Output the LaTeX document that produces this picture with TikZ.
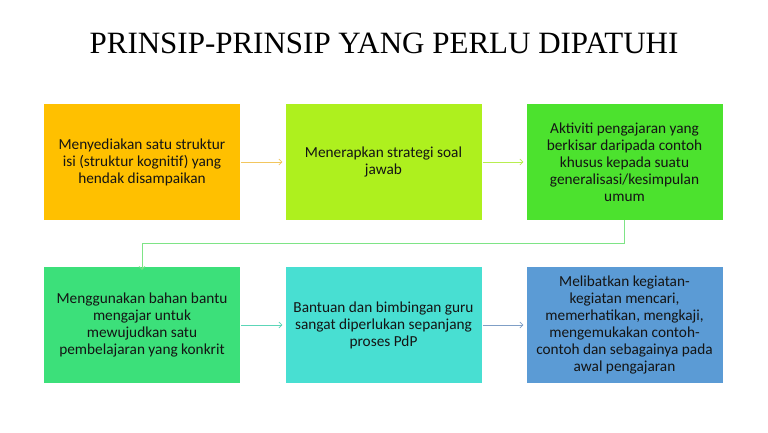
\documentclass[tikz,border=0pt]{standalone}
\usepackage{fontspec}
\setmainfont{Carlito}
\newfontfamily\titlefont{Liberation Serif}
\usetikzlibrary{arrows.meta}
\definecolor{cA}{HTML}{FFC000}
\definecolor{cB}{HTML}{AEF01E}
\definecolor{cC}{HTML}{4CE22E}
\definecolor{cD}{HTML}{3CE07A}
\definecolor{cE}{HTML}{48DFD2}
\definecolor{cF}{HTML}{5B9BD5}
\definecolor{lA}{HTML}{F2C65E}
\definecolor{lB}{HTML}{B8EE50}
\definecolor{lC}{HTML}{7EE486}
\definecolor{lD}{HTML}{5CD6B8}
\definecolor{lE}{HTML}{7F9FC6}
\definecolor{txt}{HTML}{141414}
\tikzset{
  box/.style={rectangle, minimum width=196pt, minimum height=116pt, inner sep=0pt,
    align=center, text=txt, font=\fontsize{15.3}{17}\selectfont},
  conn/.style={line width=0.8pt, -{Straight Barb[length=3pt,width=6pt,line width=0.6pt]}},
}
\begin{document}
\begin{tikzpicture}[x=1pt,y=-1pt]
\useasboundingbox[fill=white] (0,0) rectangle (768,433);
\node[font=\titlefont\fontsize{31}{34}\selectfont, text=black] (title) at (384,43) {PRINSIP-PRINSIP YANG PERLU DIPATUHI};
\node[box, fill=cA] (b1) at (142,162) {Menyediakan satu struktur\\isi (struktur kognitif) yang\\hendak disampaikan};
\node[box, fill=cB] (b2) at (383.5,162) {Menerapkan strategi soal\\jawab};
\node[box, fill=cC] (b3) at (624.5,162) {Aktiviti pengajaran yang\\berkisar daripada contoh\\khusus kepada suatu\\generalisasi/kesimpulan\\umum};
\node[box, fill=cD] (b4) at (142,325) {Menggunakan bahan bantu\\mengajar untuk\\mewujudkan satu\\pembelajaran yang konkrit};
\node[box, fill=cE] (b5) at (383.5,325) {Bantuan dan bimbingan guru\\sangat diperlukan sepanjang\\proses PdP};
\node[box, fill=cF] (b6) at (624.5,325) {Melibatkan kegiatan-\\kegiatan mencari,\\memerhatikan, mengkaji,\\mengemukakan contoh-\\contoh dan sebagainya pada\\awal pengajaran};
\draw[conn, lA] ([xshift=1pt]b1.east) -- ([xshift=-3pt]b2.west);
\draw[conn, lB] ([xshift=1pt]b2.east) -- ([xshift=-3pt]b3.west);
\draw[conn, lC] (b3.south) -- ++(0,23) -| ([yshift=-3pt]b4.north);
\draw[conn, lD] ([xshift=1pt]b4.east) -- ([xshift=-3pt]b5.west);
\draw[conn, lE] ([xshift=1pt]b5.east) -- ([xshift=-3pt]b6.west);
\end{tikzpicture}
\end{document}
